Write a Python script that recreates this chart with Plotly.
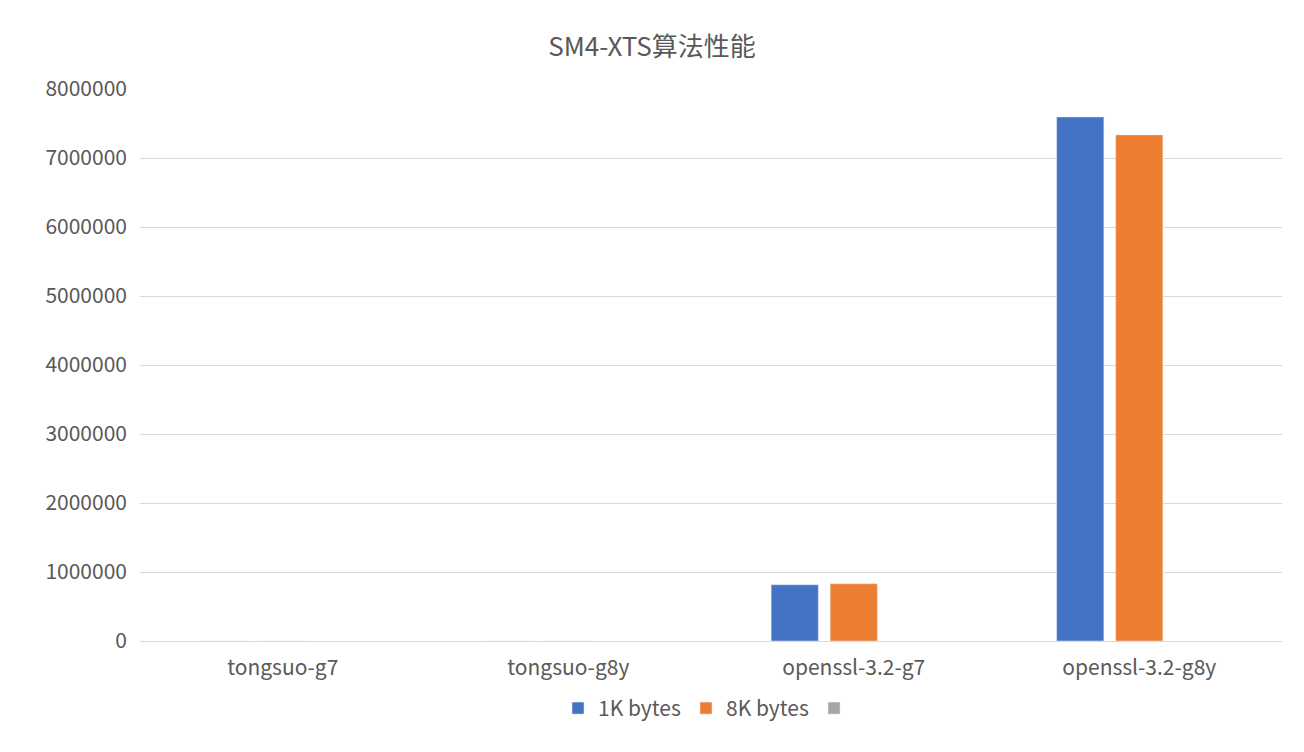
import plotly.graph_objects as go

categories = ["tongsuo-g7", "tongsuo-g8y", "openssl-3.2-g7", "openssl-3.2-g8y"]
vals_1k = [0, 0, 815000, 7595000]
vals_8k = [0, 0, 830000, 7335000]
vals_third = [None, None, None, None]

fig = go.Figure()
fig.add_trace(go.Bar(x=categories, y=vals_1k, name="1K bytes", marker_color="#4472C4"))
fig.add_trace(go.Bar(x=categories, y=vals_8k, name="8K bytes", marker_color="#ED7D31"))
fig.add_trace(go.Bar(x=categories, y=vals_third, name=" ", marker_color="#A5A5A5"))

fig.update_layout(
    width=1288, height=736,
    title=dict(text="SM4-XTS算法性能", x=0.5, y=0.96, xanchor="center",
               font=dict(size=26, color="#595959")),
    font=dict(family="Noto Sans CJK SC, Noto Sans", size=21, color="#595959"),
    plot_bgcolor="white", paper_bgcolor="white",
    margin=dict(l=132, r=14, t=81, b=103),
    barmode="group", bargap=0.38, bargroupgap=0.2,
    legend=dict(orientation="h", x=0.5, xanchor="center", y=-0.085, yanchor="top",
                font=dict(size=21, color="#595959")),
    showlegend=True,
)
fig.update_yaxes(range=[0, 8000000], dtick=1000000, tickformat="d",
                 gridcolor="#D9D9D9", zeroline=False, ticks="", ticklabelstandoff=12)
fig.update_xaxes(showline=True, linecolor="#D9D9D9", ticks="", ticklabelstandoff=8)

fig.write_html("out.html")
